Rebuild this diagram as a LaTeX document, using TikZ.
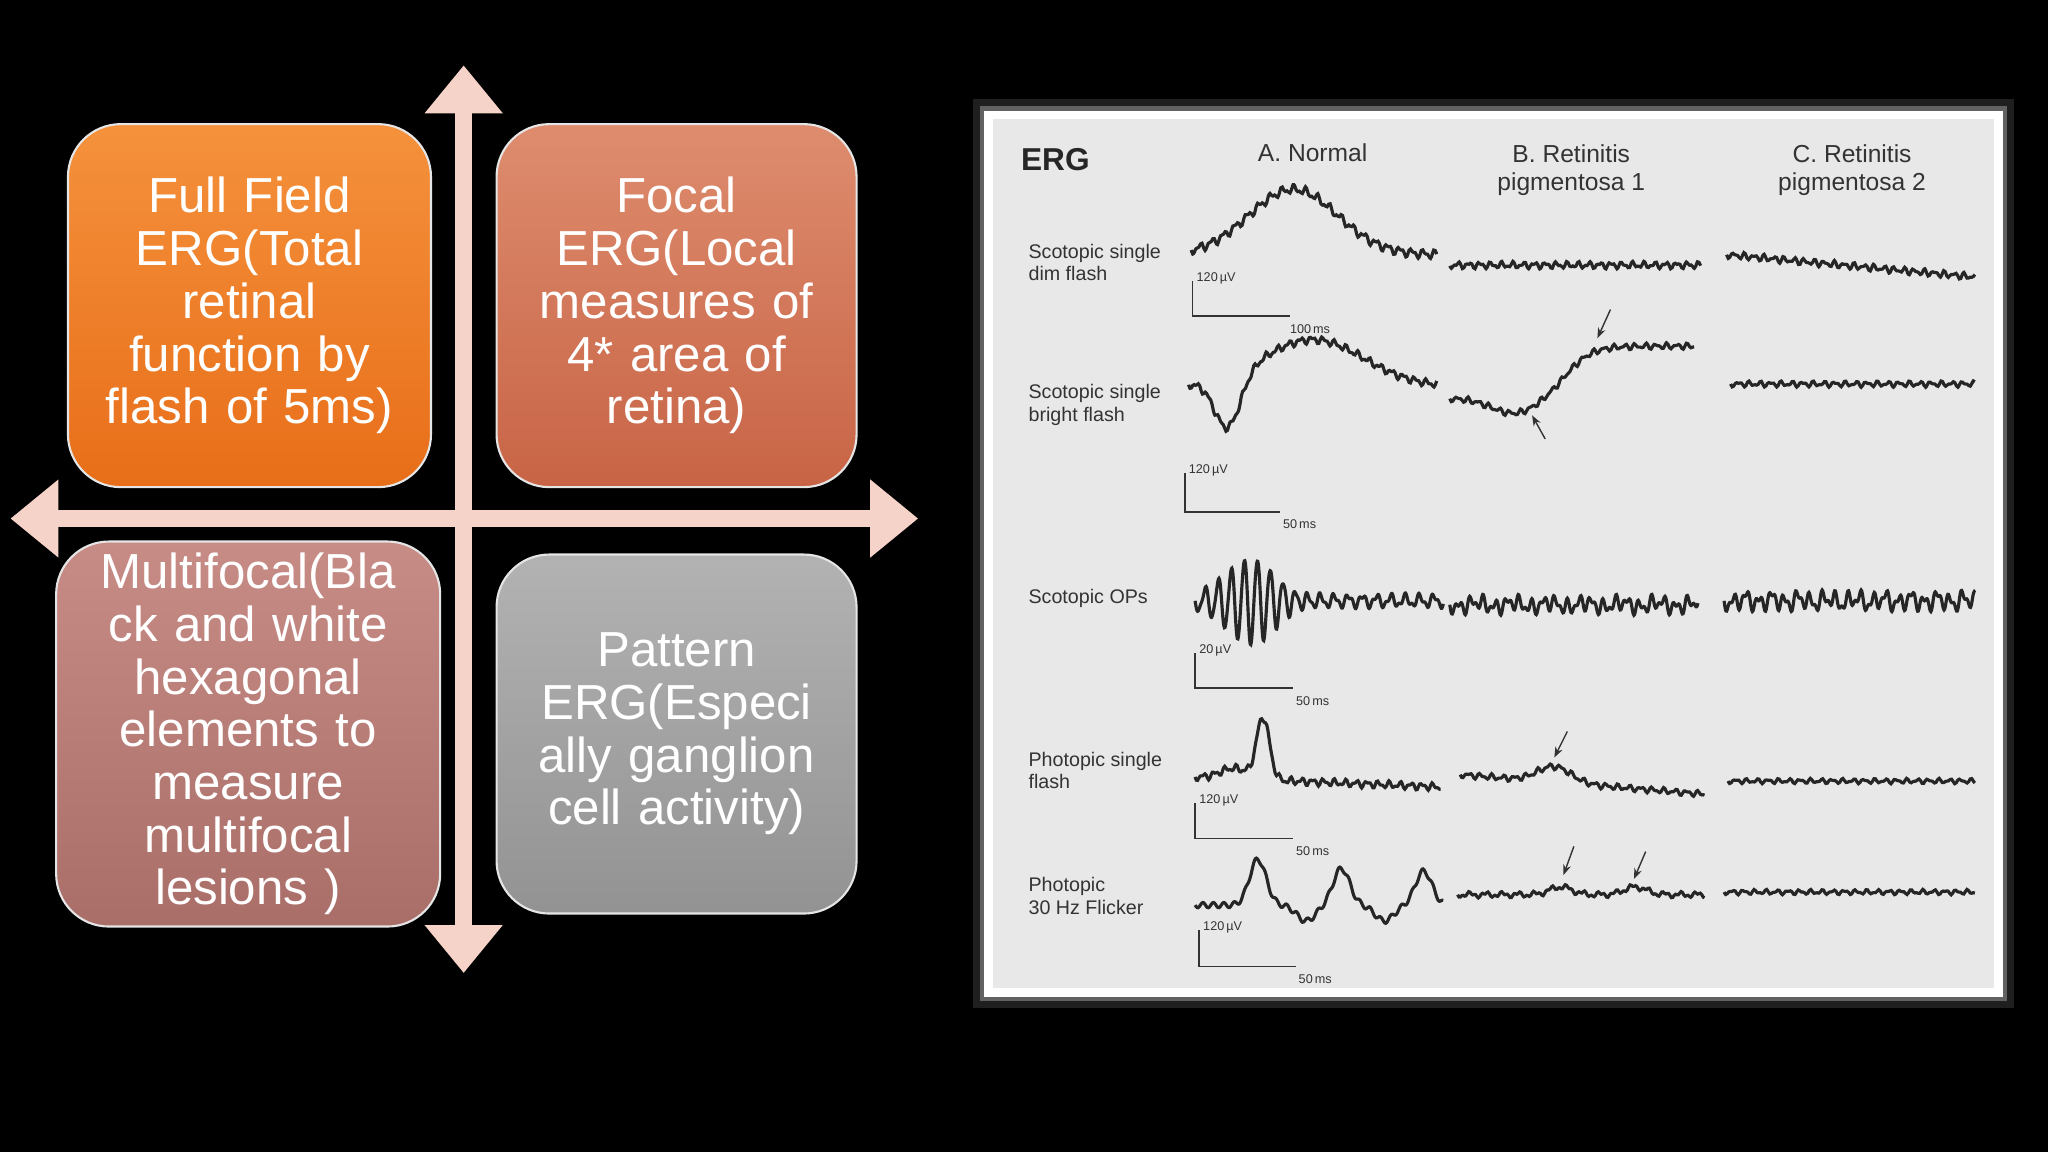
\documentclass[tikz,border=0pt]{standalone}
\usepackage{fontspec}
\setmainfont{Liberation Sans}
\usetikzlibrary{arrows.meta}
\definecolor{arr}{HTML}{F6D3C8}
\tikzset{
 box/.style={rounded corners=15pt, text=white, align=center, font=\fontsize{14}{15}\selectfont, inner sep=2pt, draw=white!80!gray, line width=0.6pt},
 lab/.style={font=\fontsize{5.6}{6.4}\selectfont, align=left, anchor=west, text=black!80},
 hdr/.style={font=\fontsize{7}{8}\selectfont, align=center, text=black!80},
 sm/.style={font=\fontsize{3.6}{4}\selectfont, text=black!80},
 tr/.style={line width=0.9pt, black!85},
 bar/.style={line width=0.5pt, black!80},
 big/.style={line width=0.17cm, arr, {Triangle[width=0.75cm,length=0.48cm]}-{Triangle[width=0.75cm,length=0.48cm]}},
 pt/.style={line width=0.4pt, black!80, -{Stealth[length=3pt]}},
 declare function={g(\u)=exp(-min(\u*\u,20));}
}
\begin{document}
\begin{tikzpicture}[x=0.013061cm,y=-0.013061cm]
\fill[black] (0,0) rectangle (1568,882);
\useasboundingbox (0,0) rectangle (1568,882);
% boxes
\node[box, minimum width=3.63cm, minimum height=3.63cm, top color={rgb,255:red,245;green,145;blue,60}, bottom color={rgb,255:red,232;green,110;blue,25}, text width=3.4cm] (ff) at (191,234) {Full Field\\ERG(Total\\retinal\\function by\\flash of 5ms)};
\node[box, minimum width=3.6cm, minimum height=3.63cm, top color={rgb,255:red,222;green,140;blue,110}, bottom color={rgb,255:red,200;green,100;blue,70}, text width=3.4cm] (fo) at (518,234) {Focal\\ERG(Local\\measures of\\4* area of\\retina)};
\node[box, minimum width=3.84cm, minimum height=3.85cm, top color={rgb,255:red,200;green,140;blue,135}, bottom color={rgb,255:red,170;green,110;blue,105}, text width=3.6cm] (mf) at (190,562) {Multifocal(Bla\\ck and white\\hexagonal\\elements to\\measure\\multifocal\\lesions )};
\node[box, minimum width=3.6cm, minimum height=3.59cm, top color=gray!60, bottom color=gray!85, text width=3.4cm] (pe) at (518,562) {Pattern\\ERG(Especi\\ally ganglion\\cell activity)};
% cross arrows
\coordinate (vt) at (355,50); \coordinate (vb) at (355,745);
\coordinate (hl) at (8,397); \coordinate (hr) at (703,397);
\draw[big] (vb) -- (vt);
\draw[big] (hl) -- (hr);
% panel
\draw[white, opacity=0.12, line width=9pt] (757,88) rectangle (1530,760);
\draw[white, opacity=0.3, line width=5pt] (757,88) rectangle (1530,760);
\fill[gray!18] (757,88) rectangle (1530,760);
\draw[white, line width=2.5pt] (757,88) rectangle (1530,760);
\node[font=\bfseries\fontsize{9}{10}\selectfont, text=black!85] (erg) at (808,122) {ERG};
\node[hdr] (ha) at (1005,117) {A. Normal};
\node[hdr] (hb) at (1203,130) {B. Retinitis\\pigmentosa 1};
\node[hdr] (hc) at (1418,130) {C. Retinitis\\pigmentosa 2};
\node[lab] (l1) at (778,201) {Scotopic single\\dim flash};
\node[lab] (l2) at (778,310) {Scotopic single\\bright flash};
\node[lab] (l3) at (778,458) {Scotopic OPs};
\node[lab] (l4) at (778,590) {Photopic single\\flash};
\node[lab] (l5) at (778,686) {Photopic\\30 Hz Flicker};
% row1 (t local)
\draw[tr] plot[domain=0:188, samples=160, smooth] ({912+\x},{195-50*g((\x-78)/48)+2.5*sin(\x*40)+1.5*sin(\x*77)});
\draw[tr] plot[domain=0:192, samples=160, smooth] ({1110+\x},{203+1.8*sin(\x*43)+1.2*sin(\x*79+30)});
\draw[tr] plot[domain=0:190, samples=160, smooth] ({1322+\x},{195+\x*0.09+1.8*sin(\x*47)+1.2*sin(\x*73)});
% row2
\draw[tr] plot[domain=0:190, samples=180, smooth] ({910+\x},{296+40*g((\x-30)/14)-36*g((\x-95)/55)+2*sin(\x*41)+1.3*sin(\x*77)});
\draw[tr] plot[domain=0:187, samples=160, smooth] ({1110+\x},{305+12*g((\x-50)/25)-40/(1+exp(-(\x-90)/10))+1.6*sin(\x*45)+1*sin(\x*71)});
\draw[tr] plot[domain=0:187, samples=160, smooth] ({1325+\x},{294+1.5*sin(\x*44)+1*sin(\x*73)});
% row3
\draw[tr] plot[domain=0:190, samples=500, smooth] ({915+\x},{460+35*g((\x-45)/28)*sin(\x*36)+4*sin(\x*33)+2*sin(\x*71)});
\draw[tr] plot[domain=0:190, samples=400, smooth] ({1110+\x},{463+4*sin(\x*39)+3*sin(\x*67)+2*sin(\x*13)});
\draw[tr] plot[domain=0:192, samples=400, smooth] ({1320+\x},{460+5*sin(\x*37)+3*sin(\x*71)+2*sin(\x*17)});
% row4
\draw[tr] plot[domain=0:188, samples=200, smooth] ({915+\x},{598-47*g((\x-52)/7)-8*g((\x-30)/15)+(\x-75)*0.04+2*sin(\x*43)+1.2*sin(\x*77)});
\draw[tr] plot[domain=0:187, samples=180, smooth] ({1118+\x},{598-12*g((\x-72)/18)+(\x-62)*0.08+1.6*sin(\x*41)+1*sin(\x*71)});
\draw[tr] plot[domain=0:189, samples=160, smooth] ({1323+\x},{598+1.3*sin(\x*44)+0.8*sin(\x*73)});
% row5
\draw[tr] plot[domain=0:190, samples=260, smooth] ({915+\x},{693-35*g((\x-48)/9)-28*g((\x-112)/9)-26*g((\x-175)/9)+12*g((\x-85)/10)+12*g((\x-145)/10)+2*sin(\x*45)});
\draw[tr] plot[domain=0:189, samples=180, smooth] ({1116+\x},{685-6*g((\x-79)/12)-6*g((\x-136)/12)+1.5*sin(\x*29)+1*sin(\x*73)});
\draw[tr] plot[domain=0:192, samples=160, smooth] ({1320+\x},{683+1.3*sin(\x*42)+0.8*sin(\x*75)});
% arrows in panel
\coordinate (a1s) at (1233,237); \coordinate (a1e) at (1223,259);
\coordinate (a2s) at (1183,336); \coordinate (a2e) at (1173,318);
\coordinate (a3s) at (1200,560); \coordinate (a3e) at (1190,580);
\coordinate (a4s) at (1205,648); \coordinate (a4e) at (1197,670);
\coordinate (a5s) at (1260,652); \coordinate (a5e) at (1251,673);
\foreach \s/\e in {a1s/a1e,a2s/a2e,a3s/a3e,a4s/a4e,a5s/a5e} \draw[pt] (\s) -- (\e);
% scale bars
\foreach \xb/\yt/\yb/\xe/\ul/\tl in {913/215/242/988/120/100, 907/362/392/980/120/50, 915/500/527/990/20/50, 915/615/642/990/120/50, 918/712/740/992/120/50}{
 \draw[bar] (\xb,\yt) -- (\xb,\yb) -- (\xe,\yb);
 \node[sm, anchor=west, inner sep=1pt] at (\xb,\yt-2) {\ul\,µV};
 \node[sm, anchor=north, inner sep=1pt] at (\xe+15,\yb+3) {\tl\,ms};
}
\end{tikzpicture}
\end{document}
